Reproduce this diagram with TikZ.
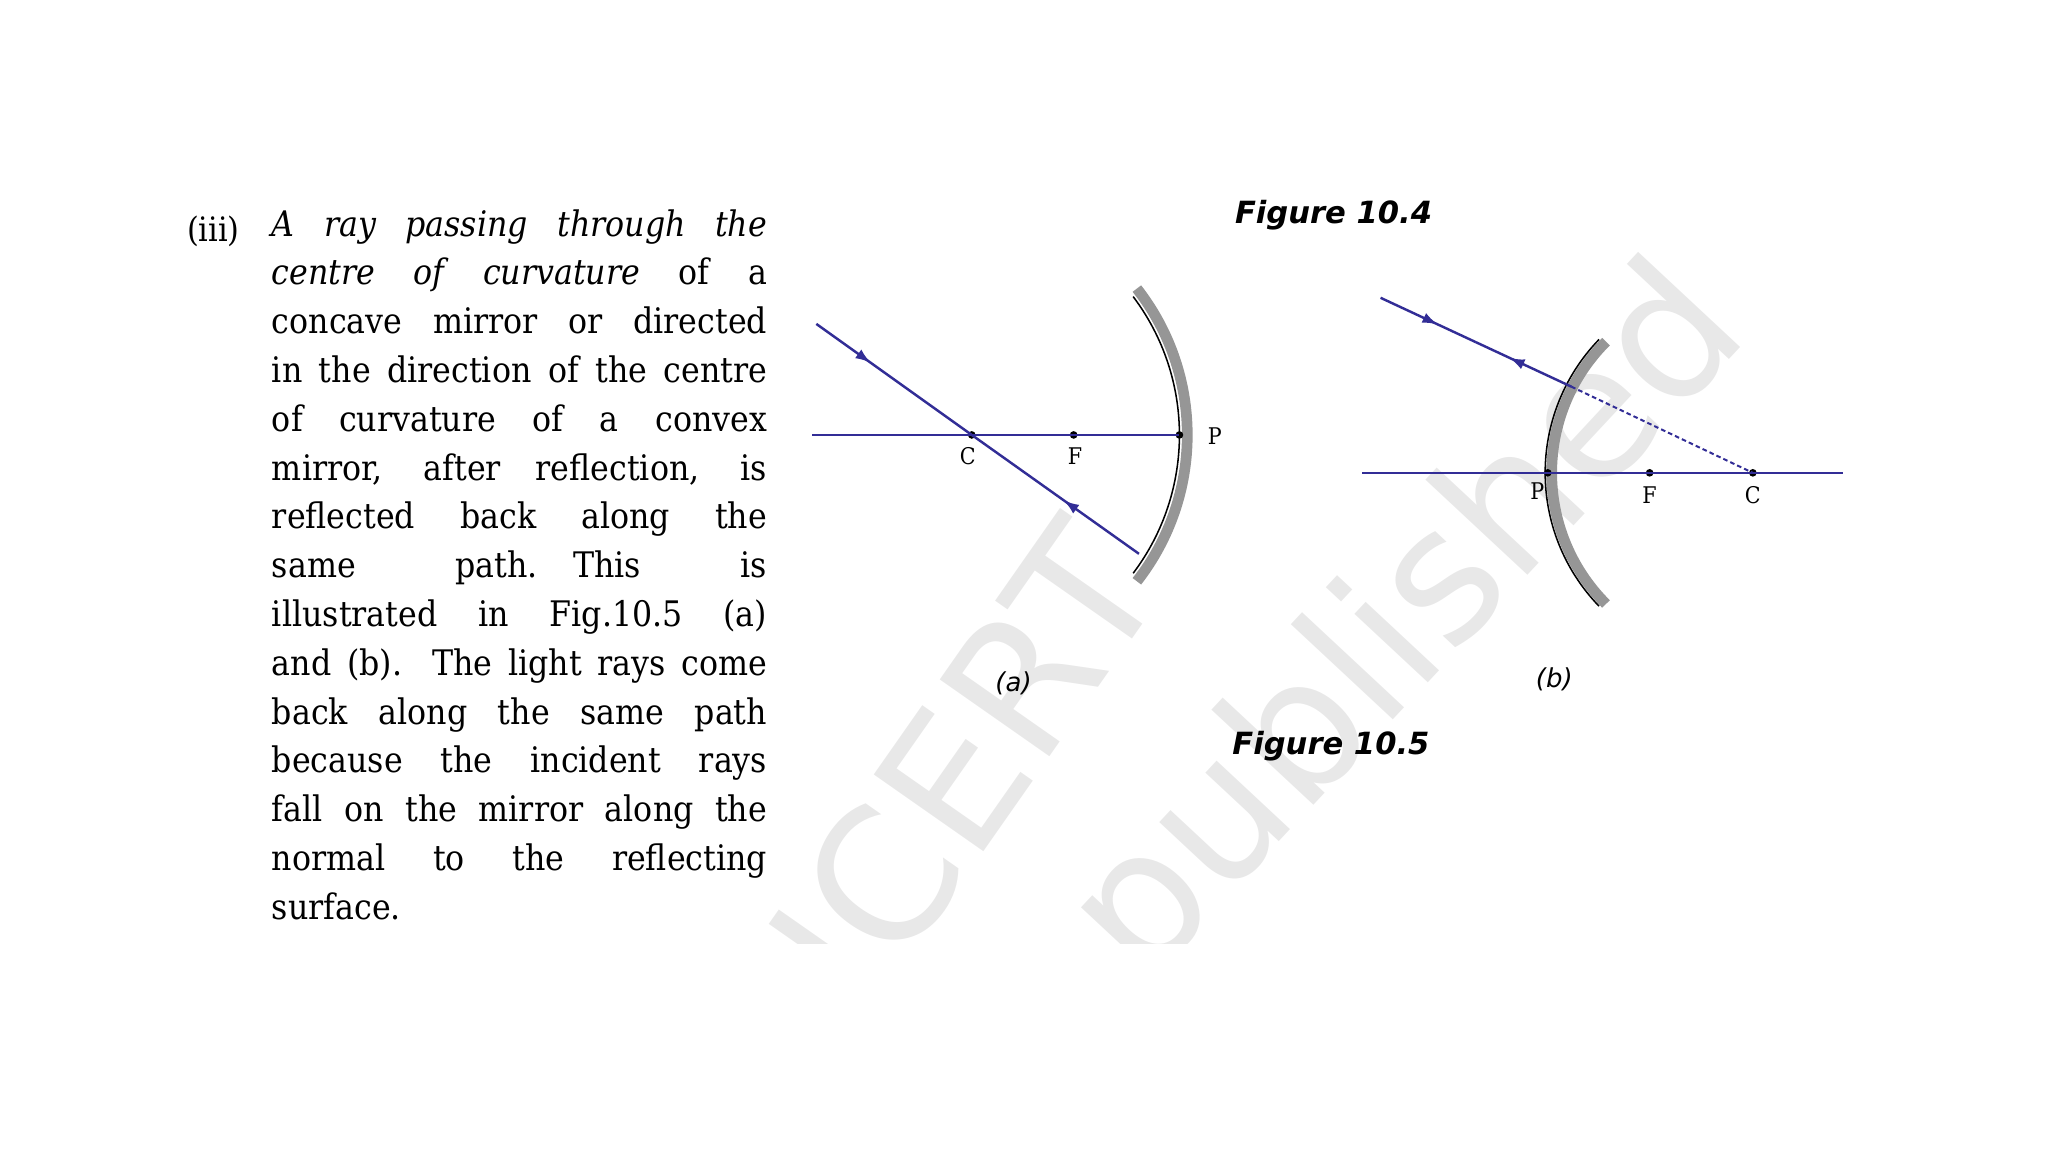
\documentclass[tikz,border=0pt]{standalone}
\usepackage{fontspec}
\setmainfont{DejaVu Serif Condensed}
\setsansfont{DejaVu Sans}
\usetikzlibrary{decorations.markings,arrows.meta,calc}
\definecolor{ray}{RGB}{50,45,150}
\definecolor{mir}{RGB}{150,150,150}
\tikzset{
 rayl/.style={ray,line width=1.6pt},
 mirg/.style={mir,line width=7pt},
 mirb/.style={black,line width=1pt},
 dot/.style={circle,fill=black,inner sep=0pt,minimum size=5pt},
 lab/.style={font=\fontsize{15}{15}\selectfont,inner sep=0pt},
 figcap/.style={font=\sffamily\bfseries\itshape\fontsize{20}{20}\selectfont},
 sub/.style={font=\sffamily\itshape\fontsize{17}{17}\selectfont},
 arrmark/.style={postaction=decorate,decoration={markings,mark=at position #1 with {\arrow{Latex[length=10pt,width=7pt]}}}}
}
\begin{document}
\begin{tikzpicture}[x=0.3mm,y=-0.3mm]
\useasboundingbox (0,0) rectangle (1568,882);
% watermark
\begin{scope}
\clip (0,0) rectangle (1568,722);
\node[gray!18,font=\sffamily\fontsize{120}{120}\selectfont,rotate=55] (wm1) at (720,610) {NCERT};
\node[gray!18,font=\sffamily\fontsize{120}{120}\selectfont,rotate=47] (wm2) at (1080,480) {published};
\end{scope}
% text
\node[anchor=base west,inner sep=0pt,font=\fontsize{22}{31.9}\selectfont] (iii) at (143,185) {(iii)};
\node[anchor=north west,inner sep=0pt,text width=379*0.3mm,align=justify,font=\fontsize{23}{31.9}\selectfont] (body) at (208,160)
{\itshape A ray passing through the\linebreak centre of curvature \upshape of a\linebreak concave mirror or directed\linebreak in the direction of the centre\linebreak of curvature of a convex\linebreak mirror, after reflection, is\linebreak reflected back along the\linebreak same path.\quad This is\linebreak illustrated in Fig.10.5 (a)\linebreak and (b). The light rays come\linebreak back along the same path\linebreak because the incident rays\linebreak fall on the mirror along the\linebreak normal to the reflecting\linebreak surface.};
% captions
\node[figcap] (f4) at (1021,165) {Figure 10.4};
\node[figcap] (f5) at (1019,571) {Figure 10.5};
\node[sub] (sa) at (776,523) {(a)};
\node[sub] (sb) at (1190,520) {(b)};
% (a)
\coordinate (ca) at (727,333);
\draw[mirg] ($(ca)+(-38:182)$) arc[start angle=-38,end angle=38,radius=182];
\draw[mirb] ($(ca)+(-37:176)$) arc[start angle=-37,end angle=37,radius=176];
\coordinate (a0) at (622,333);
\node[dot] (C1) at (744,333) {};
\node[dot] (F1) at (822,333) {};
\node[dot] (P1) at (903,333) {};
\coordinate (r0) at (625,248);
\coordinate (r1) at (872,424);
\draw[rayl] (a0) -- (P1.center);
\draw[rayl,arrmark=0.35] (r0) -- (C1.center);
\draw[rayl,arrmark=0.45] (r1) -- (C1.center);
\node[lab] (lC1) at (741,349) {C};
\node[lab] (lF1) at (823,349) {F};
\node[lab] (lP1) at (930,334) {P};
% (b)
\coordinate (cb) at (1330,362);
\draw[mirg] ($(cb)+(135:142)$) arc[start angle=135,end angle=225,radius=142];
\draw[mirb] ($(cb)+(136:147)$) arc[start angle=136,end angle=224,radius=147];
\coordinate (b0) at (1043,362);
\coordinate (b1) at (1411,362);
\node[dot] (P2) at (1185,362) {};
\node[dot] (F2) at (1263,362) {};
\node[dot] (C2) at (1342,362) {};
\draw[rayl] (b0) -- (b1);
\coordinate (s0) at (1057,228);
\coordinate (s1) at (1203,296);
\coordinate (sm) at ($(s0)!0.5!(s1)$);
\draw[rayl,arrmark=0.6] (s0) -- (sm);
\draw[rayl,arrmark=0.65] (s1) -- (sm);
\draw[ray,line width=1.3pt,dash pattern=on 3pt off 2pt] (s1) -- (C2.center);
\node[lab] (lP2) at (1177,376) {P};
\node[lab] (lF2) at (1263,379) {F};
\node[lab] (lC2) at (1342,379) {C};
\end{tikzpicture}
\end{document}
